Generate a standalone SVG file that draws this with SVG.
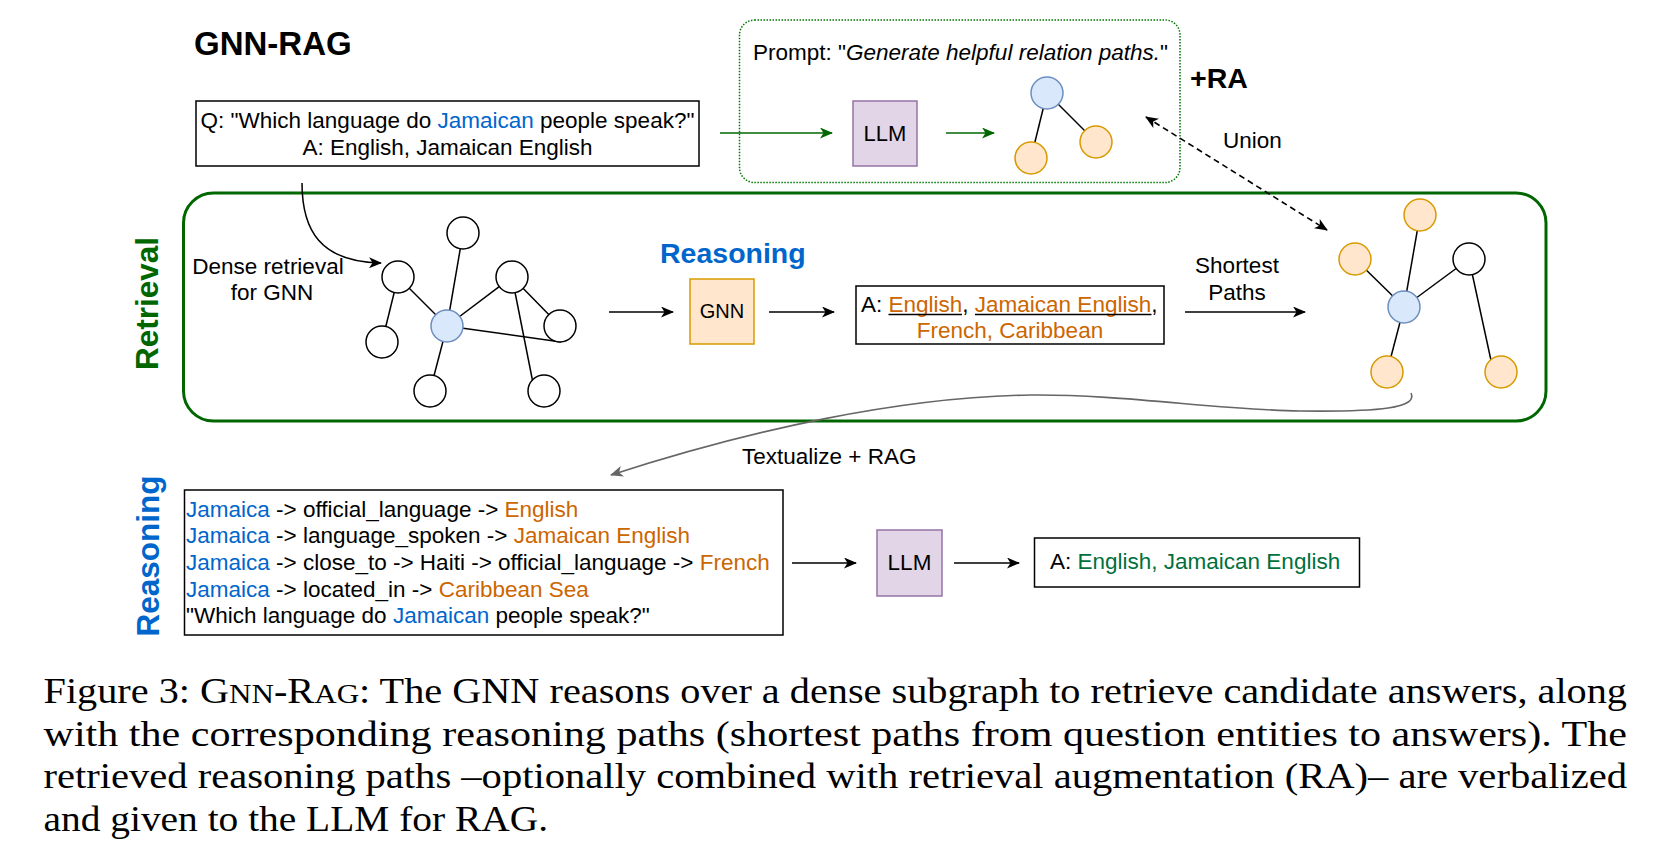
<svg xmlns="http://www.w3.org/2000/svg" width="1658" height="862" viewBox="0 0 1658 862">
<style>
  text { font-family: "Liberation Sans", Arial, Helvetica, sans-serif; font-size: 22.5px; fill: #000; }
  .b { fill: #0066CC; }
  .o { fill: #CC6600; }
  .g { fill: #00703C; }
  .bold { font-weight: bold; }
  .cap { font-family: "Liberation Serif", "Times New Roman", serif; font-size: 35px; }
  .sc { font-size: 27px; }
  .node { fill: #ffffff; stroke: #000; stroke-width: 1.5; }
  .bnode { fill: #dae8fc; stroke: #6c8ebf; stroke-width: 1.5; }
  .onode { fill: #ffe6cc; stroke: #d79b00; stroke-width: 1.5; }
  .edge { stroke: #000; stroke-width: 1.5; fill: none; }
  .arr { stroke: #000; stroke-width: 1.5; fill: none; marker-end: url(#ah); }
  .garr { stroke: #006600; stroke-width: 1.5; fill: none; marker-end: url(#ahg); }
  .box { fill: #fff; stroke: #000; stroke-width: 1.5; }
</style>
<defs>
  <marker id="ah" viewBox="0 0 13 11" refX="12" refY="5.5" markerWidth="13" markerHeight="11" markerUnits="userSpaceOnUse" orient="auto-start-reverse">
    <path d="M0,0 L13,5.5 L0,11 L3.5,5.5 z" fill="#000"/>
  </marker>
  <marker id="ahg" viewBox="0 0 13 11" refX="12" refY="5.5" markerWidth="13" markerHeight="11" markerUnits="userSpaceOnUse" orient="auto">
    <path d="M0,0 L13,5.5 L0,11 L3.5,5.5 z" fill="#006600"/>
  </marker>
  <marker id="ahgr" viewBox="0 0 13 11" refX="12" refY="5.5" markerWidth="13" markerHeight="11" markerUnits="userSpaceOnUse" orient="auto">
    <path d="M0,0 L13,5.5 L0,11 L3.5,5.5 z" fill="#666"/>
  </marker>
</defs>
<rect width="1658" height="862" fill="#fff"/>

<!-- Titles and labels -->
<g id="title">
  <text x="194" y="55" class="bold" style="font-size:33px">GNN-RAG</text>
</g>
<g id="ra-label">
  <text x="1190" y="88" class="bold" style="font-size:28.5px">+RA</text>
</g>
<g id="retrieval-label">
  <text transform="translate(158,303.5) rotate(-90)" text-anchor="middle" class="bold" style="font-size:31.5px;fill:#006600">Retrieval</text>
</g>
<g id="reasoning-side-label">
  <text transform="translate(159,556) rotate(-90)" text-anchor="middle" class="bold" style="font-size:31.5px;fill:#0066CC">Reasoning</text>
</g>

<!-- Containers -->
<g id="ra-container">
  <rect x="739.5" y="20" width="440.5" height="162.5" rx="15" ry="15" fill="none" stroke="#007700" stroke-width="1.5" stroke-dasharray="1.5 1.5"/>
  <text x="753" y="60">Prompt: "<tspan font-style="italic">Generate helpful relation paths.</tspan>"</text>
</g>
<g id="retrieval-container">
  <rect x="183.5" y="193" width="1362.5" height="228" rx="30" ry="30" fill="none" stroke="#006600" stroke-width="3"/>
</g>

<!-- Connectors -->
<g id="connectors">
  <line class="garr" x1="720" y1="133" x2="832" y2="133"/>
  <line class="garr" x1="946" y1="133" x2="994" y2="133"/>
  <line x1="1146" y1="117" x2="1327" y2="230" stroke="#000" stroke-width="1.6" stroke-dasharray="6 4" marker-start="url(#ah)" marker-end="url(#ah)"/>
  <path class="arr" d="M302,183 C302,230 320,262 381,263"/>
  <line class="arr" x1="609" y1="312" x2="673" y2="312"/>
  <line class="arr" x1="769" y1="312" x2="834" y2="312"/>
  <line class="arr" x1="1185" y1="312" x2="1305" y2="312"/>
  <path d="M1411,393 C1418,408 1380,412 1300,411 C1220,410 1120,394 1030,395 C900,397 750,430 611,475" fill="none" stroke="#666" stroke-width="1.6" marker-end="url(#ahgr)"/>
  <line class="arr" x1="792" y1="563" x2="856" y2="563"/>
  <line class="arr" x1="954" y1="563" x2="1019" y2="563"/>
</g>

<!-- Edge labels -->
<g id="labels">
  <text x="1223" y="148">Union</text>
  <text x="268" y="274" text-anchor="middle">Dense retrieval</text>
  <text x="272" y="300" text-anchor="middle">for GNN</text>
  <text x="660" y="263" class="bold" style="font-size:28.5px;fill:#0066CC">Reasoning</text>
  <text x="1237" y="273" text-anchor="middle">Shortest</text>
  <text x="1237" y="300" text-anchor="middle">Paths</text>
  <text x="742" y="464">Textualize + RAG</text>
</g>

<!-- Question box -->
<g id="question">
  <rect class="box" x="196" y="101" width="503" height="65"/>
  <text x="447.5" y="128" text-anchor="middle">Q: "Which language do <tspan class="b">Jamaican</tspan> people speak?"</text>
  <text x="447.5" y="155" text-anchor="middle">A: English, Jamaican English</text>
</g>

<!-- LLM top -->
<g id="llm-top">
  <rect x="853" y="101" width="64" height="65" fill="#e1d5e7" stroke="#9673a6" stroke-width="1.5"/>
  <text x="885" y="141" text-anchor="middle" style="font-size:22px">LLM</text>
</g>

<!-- Relation path tree -->
<g id="ra-tree">
  <line class="edge" x1="1047" y1="93" x2="1031" y2="158"/>
  <line class="edge" x1="1047" y1="93" x2="1096" y2="142"/>
  <circle class="bnode" cx="1047" cy="93" r="16"/>
  <circle class="onode" cx="1031" cy="158" r="16"/>
  <circle class="onode" cx="1096" cy="142" r="16"/>
</g>

<!-- Dense subgraph -->
<g id="dense-graph">
  <line class="edge" x1="463" y1="233" x2="447" y2="326"/>
  <line class="edge" x1="398" y1="277" x2="447" y2="326"/>
  <line class="edge" x1="398" y1="277" x2="382" y2="342"/>
  <line class="edge" x1="447" y1="326" x2="512" y2="277"/>
  <line class="edge" x1="447" y1="326" x2="561" y2="342"/>
  <line class="edge" x1="512" y1="277" x2="560" y2="326"/>
  <line class="edge" x1="512" y1="277" x2="534" y2="388"/>
  <line class="edge" x1="447" y1="326" x2="430" y2="391"/>
  <circle class="node" cx="463" cy="233" r="16"/>
  <circle class="node" cx="398" cy="277" r="16"/>
  <circle class="node" cx="382" cy="342" r="16"/>
  <circle class="node" cx="512" cy="277" r="16"/>
  <circle class="node" cx="560" cy="326" r="16"/>
  <circle class="node" cx="430" cy="391" r="16"/>
  <circle class="node" cx="544" cy="391" r="16"/>
  <circle class="bnode" cx="447" cy="326" r="16"/>
</g>

<!-- GNN -->
<g id="gnn">
  <rect x="690" y="279" width="64" height="65" fill="#ffe6cc" stroke="#d79b00" stroke-width="1.5"/>
  <text x="722" y="318" text-anchor="middle" style="font-size:20px">GNN</text>
</g>

<!-- GNN answers -->
<g id="gnn-answers">
  <rect class="box" x="856" y="286" width="308" height="58"/>
  <text x="861" y="312">A: <tspan class="o">English</tspan>, <tspan class="o">Jamaican English</tspan>,</text>
  <line x1="888.5" y1="314.5" x2="962" y2="314.5" stroke="#000" stroke-width="1.5"/>
  <line x1="975" y1="314.5" x2="1151.5" y2="314.5" stroke="#000" stroke-width="1.5"/>
  <text x="1010" y="338" text-anchor="middle" class="o">French, Caribbean</text>
</g>

<!-- Shortest path subgraph -->
<g id="path-graph">
  <line class="edge" x1="1355" y1="259" x2="1404" y2="307"/>
  <line class="edge" x1="1420" y1="215" x2="1404" y2="307"/>
  <line class="edge" x1="1404" y1="307" x2="1469" y2="259"/>
  <line class="edge" x1="1404" y1="307" x2="1387" y2="372"/>
  <line class="edge" x1="1469" y1="259" x2="1492" y2="365"/>
  <circle class="onode" cx="1420" cy="215" r="16"/>
  <circle class="onode" cx="1355" cy="259" r="16"/>
  <circle class="node" cx="1469" cy="259" r="16"/>
  <circle class="bnode" cx="1404" cy="307" r="16"/>
  <circle class="onode" cx="1387" cy="372" r="16"/>
  <circle class="onode" cx="1501" cy="372" r="16"/>
</g>

<!-- Verbalized paths -->
<g id="paths-text">
  <rect class="box" x="184.5" y="490" width="598.5" height="145"/>
  <text x="186" y="516.5"><tspan class="b">Jamaica</tspan> -&gt; official_language -&gt; <tspan class="o">English</tspan></text>
  <text x="186" y="543"><tspan class="b">Jamaica</tspan> -&gt; language_spoken -&gt; <tspan class="o">Jamaican English</tspan></text>
  <text x="186" y="569.5"><tspan class="b">Jamaica</tspan> -&gt; close_to -&gt; Haiti -&gt; official_language -&gt; <tspan class="o">French</tspan></text>
  <text x="186" y="596.5"><tspan class="b">Jamaica</tspan> -&gt; located_in -&gt; <tspan class="o">Caribbean Sea</tspan></text>
  <text x="186" y="623">"Which language do <tspan class="b">Jamaican</tspan> people speak?"</text>
</g>

<!-- LLM bottom -->
<g id="llm-bottom">
  <rect x="877" y="530" width="65" height="66" fill="#e1d5e7" stroke="#9673a6" stroke-width="1.5"/>
  <text x="909.5" y="570" text-anchor="middle">LLM</text>
</g>

<!-- Final answer -->
<g id="final-answer">
  <rect class="box" x="1034.5" y="538" width="325" height="49"/>
  <text x="1050" y="569">A: <tspan class="g">English, Jamaican English</tspan></text>
</g>

<!-- Caption -->
<g id="caption">
  <text class="cap" x="43.5" y="703" textLength="1583.5" lengthAdjust="spacingAndGlyphs">Figure 3: G<tspan class="sc">NN</tspan>-R<tspan class="sc">AG</tspan>: The GNN reasons over a dense subgraph to retrieve candidate answers, along</text>
  <text class="cap" x="43.5" y="745.5" textLength="1583.5" lengthAdjust="spacingAndGlyphs">with the corresponding reasoning paths (shortest paths from question entities to answers).  The</text>
  <text class="cap" x="43.5" y="788" textLength="1583.5" lengthAdjust="spacingAndGlyphs">retrieved reasoning paths –optionally combined with retrieval augmentation (RA)– are verbalized</text>
  <text class="cap" x="43.5" y="830.5" textLength="504.5" lengthAdjust="spacingAndGlyphs">and given to the LLM for RAG.</text>
</g>
</svg>
